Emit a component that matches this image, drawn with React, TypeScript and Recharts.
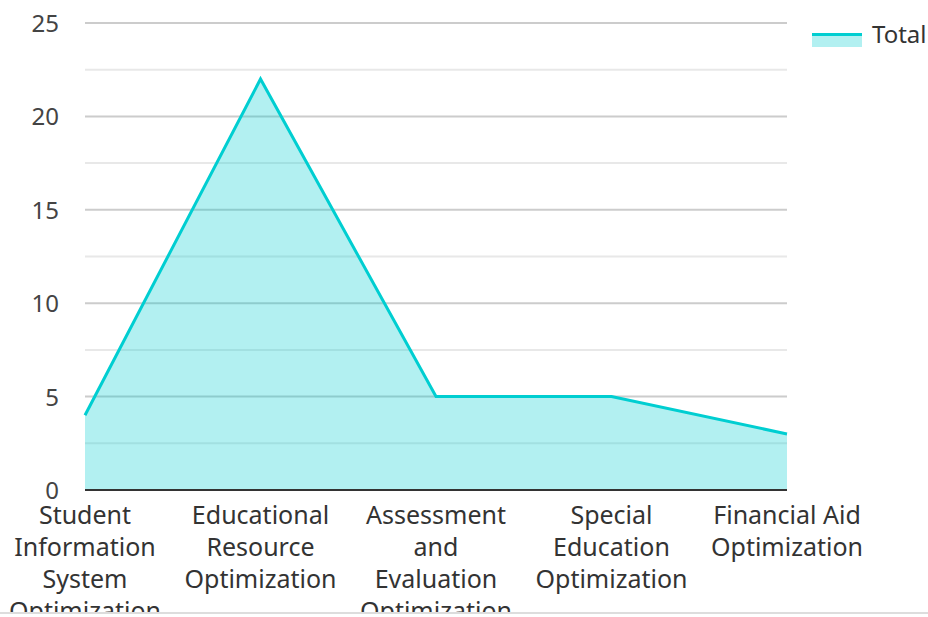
import { Area, AreaChart, CartesianGrid, XAxis, YAxis } from "recharts";

const categories = [
  "Student Information System Optimization",
  "Educational Resource Optimization",
  "Assessment and Evaluation Optimization",
  "Special Education Optimization",
  "Financial Aid Optimization",
];
const totals = [4, 22, 5, 5, 3];
const majorTicks = [0, 5, 10, 15, 20, 25];
const minorTicks = [2.5, 7.5, 12.5, 17.5, 22.5];

const rows = categories.map((name, i) => ({ name, total: totals[i] }));

const FONT = "'Noto Sans', 'Open Sans', sans-serif";
const FONT_SIZE = 25;
const LINE_H = 32;
const MAX_W = 170;

let ctx: CanvasRenderingContext2D | null = null;
function wrap(text: string): string[] {
  if (!ctx) {
    ctx = document.createElement("canvas").getContext("2d");
  }
  if (ctx) ctx.font = `${FONT_SIZE}px 'Noto Sans'`;
  const words = text.split(" ");
  const lines: string[] = [];
  let cur = "";
  for (const w of words) {
    const next = cur ? cur + " " + w : w;
    const width = ctx ? ctx.measureText(next).width : next.length * 12;
    if (width > MAX_W && cur) {
      lines.push(cur);
      cur = w;
    } else {
      cur = next;
    }
  }
  if (cur) lines.push(cur);
  return lines;
}

function XTick(props: any) {
  const { x, payload } = props;
  const lines = wrap(String(payload.value));
  return (
    <text
      x={x}
      y={524}
      textAnchor="middle"
      fill="#333"
      fontSize={FONT_SIZE}
      fontFamily={FONT}
    >
      {lines.map((l, i) => (
        <tspan key={i} x={x} dy={i === 0 ? 0 : LINE_H}>
          {l}
        </tspan>
      ))}
    </text>
  );
}

function YTick(props: any) {
  const { y, payload } = props;
  return (
    <text
      x={59}
      y={y}
      dy={9}
      textAnchor="end"
      fill="#444"
      fontSize={24}
      fontFamily={FONT}
    >
      {payload.value}
    </text>
  );
}

function SeriesLegend() {
  return (
    <svg
      width={116}
      height={40}
      style={{ position: "absolute", left: 812, top: 20, overflow: "visible" }}
    >
      <rect x={0} y={14} width={50} height={13} fill="#00CED1" fillOpacity={0.3} />
      <line x1={0} x2={50} y1={14.5} y2={14.5} stroke="#00CED1" strokeWidth={3} />
      <text x={60} y={23} fontSize={24} fontFamily={FONT} fill="#333">
        Total
      </text>
    </svg>
  );
}

export default function App() {
  return (
    <div
      style={{
        position: "absolute",
        left: 0,
        top: 0,
        width: 928,
        height: 612,
        overflow: "hidden",
        borderBottom: "2px solid #dddddd",
        background: "#fff",
      }}
    >
      <AreaChart
        width={928}
        height={612}
        data={rows}
        margin={{ top: 23, right: 141, left: 0, bottom: 0 }}
      >
        <CartesianGrid
          vertical={false}
          horizontalValues={minorTicks}
          stroke="#e8e8e8"
          strokeWidth={2}
        />
        <CartesianGrid
          vertical={false}
          horizontalValues={majorTicks}
          stroke="#cccccc"
          strokeWidth={2}
        />
        <XAxis
          dataKey="name"
          interval={0}
          tickLine={false}
          axisLine={{ stroke: "#333", strokeWidth: 2 }}
          height={122}
          tick={<XTick />}
        />
        <YAxis
          domain={[0, 25]}
          ticks={majorTicks}
          axisLine={false}
          tickLine={false}
          width={85}
          tick={<YTick />}
        />
        <Area
          type="linear"
          dataKey="total"
          name="Total"
          stroke="#00CED1"
          strokeWidth={3}
          fill="#00CED1"
          fillOpacity={0.3}
          dot={false}
          activeDot={false}
          isAnimationActive={false}
        />
      </AreaChart>
      <SeriesLegend />
    </div>
  );
}
